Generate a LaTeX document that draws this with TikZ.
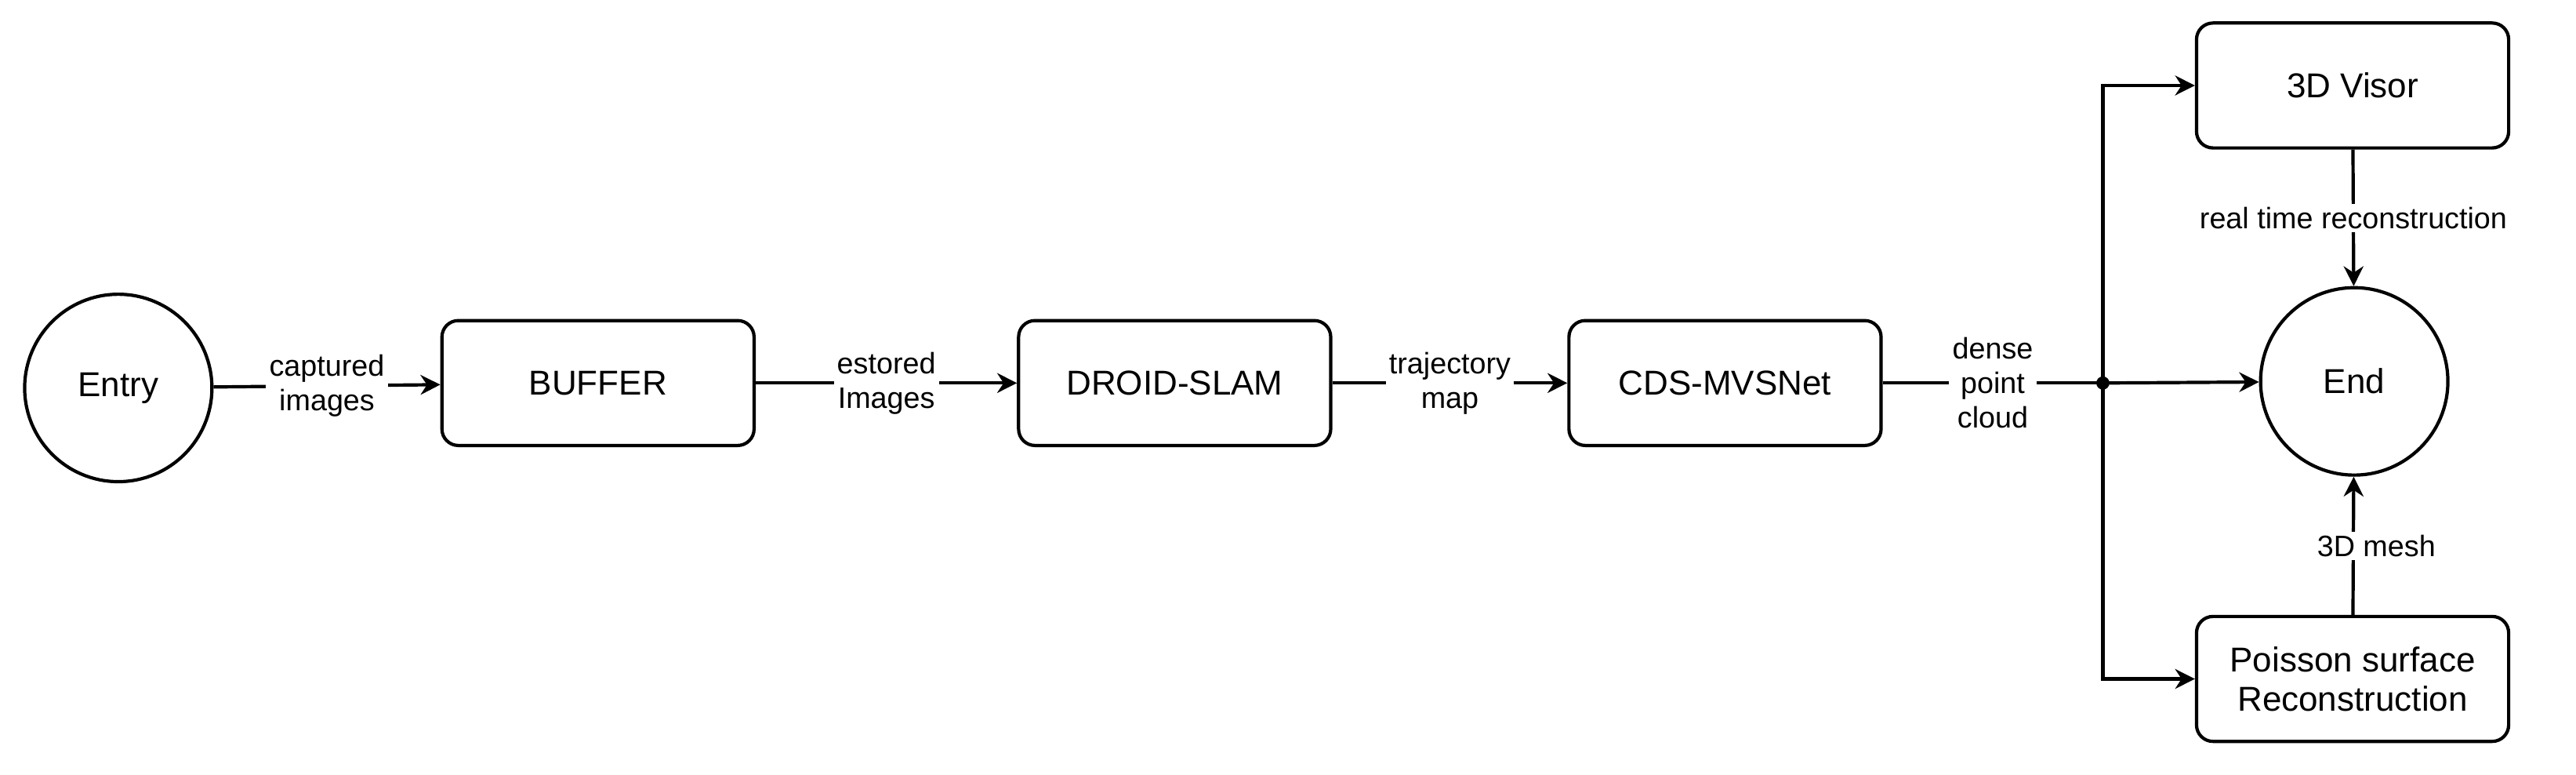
\documentclass[tikz,border=0pt]{standalone}
\usepackage{fontspec}
\setmainfont{Liberation Sans}
\usetikzlibrary{arrows.meta}
\begin{document}
\begin{tikzpicture}[x=0.5pt,y=-0.5pt,
  box/.style={draw,line width=1pt,rounded corners=5pt,minimum width=95pt,minimum height=38pt,font=\fontsize{10.5}{12}\selectfont,align=center},
  circ/.style={draw,line width=1pt,circle,minimum size=57pt,font=\fontsize{10.5}{12}\selectfont},
  lbl/.style={font=\fontsize{9}{10.5}\selectfont,align=center,fill=white,inner sep=1pt},
  arr/.style={line width=1pt,-{Stealth[length=6pt,width=6pt]}},
  ln/.style={line width=1pt}]
\useasboundingbox (0,0) rectangle (1568,471);
\node[circ] (entry) at (72,236) {Entry};
\node[box] (buf) at (364,233) {BUFFER};
\node[box] (droid) at (715,233) {DROID-SLAM};
\node[box] (cds) at (1050,233) {CDS-MVSNet};
\node[box] (visor) at (1432,52) {3D Visor};
\node[circ] (end) at (1433,232) {End};
\node[box] (pois) at (1432,413) {Poisson surface\\Reconstruction};
\coordinate (j) at (1280,233);
\fill (j) circle (4);
\draw[arr] (entry) -- node[lbl]{captured\\images} (buf);
\draw[arr] (buf) -- node[lbl]{estored\\Images} (droid);
\draw[arr] (droid) -- node[lbl]{trajectory\\map} (cds);
\draw[ln] (cds) -- node[lbl]{dense\\point\\cloud} (j);
\draw[arr] (j) -- (end);
\draw[arr] (j) |- (visor);
\draw[arr] (j) |- (pois);
\draw[arr] (visor) -- node[lbl]{real time reconstruction} (end);
\draw[arr] (pois) -- node[lbl,xshift=7pt]{3D mesh} (end);
\end{tikzpicture}
\end{document}
